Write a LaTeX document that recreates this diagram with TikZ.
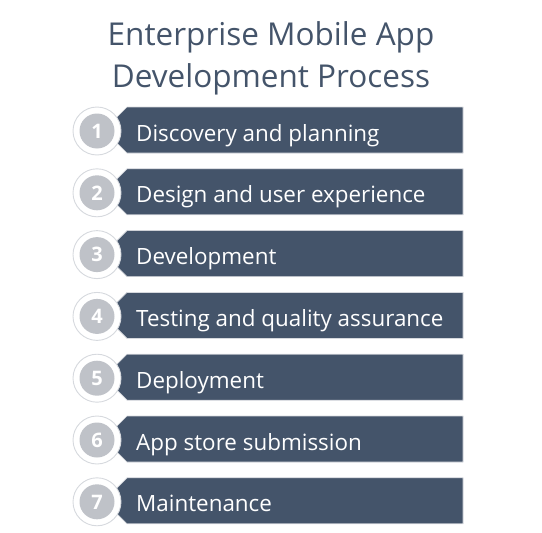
\documentclass[tikz,border=0pt]{standalone}
\usepackage{fontspec}
\setmainfont{Open Sans}
\usetikzlibrary{positioning}
\definecolor{slate}{HTML}{44546A}
\definecolor{ringgrey}{HTML}{D6D9DE}
\definecolor{numgrey}{HTML}{BFC2C8}
\tikzset{
  stepbar/.style = {fill=slate, draw=ringgrey, line width=0.7pt},
  numring/.style = {circle, fill=white, draw=ringgrey, line width=0.9pt, minimum size=48pt, inner sep=0pt},
  numdisc/.style = {circle, fill=numgrey, minimum size=35pt, inner sep=0pt, text=white,
    text height=14.5pt, text depth=0pt, font=\bfseries\fontsize{20}{20}\selectfont},
  steplabel/.style = {anchor=base west, text=white, inner sep=0pt, font=\fontsize{22.4}{22.4}\selectfont},
  titleline/.style = {anchor=base, text=slate, inner sep=0pt, font=\fontsize{31.5}{31.5}\selectfont},
}

\begin{document}
\begin{tikzpicture}[x=1pt, y=-1pt]
\useasboundingbox (0,0) rectangle (542,533);
% title
\node [titleline] (title1) at (271, 45) {Enterprise Mobile App};
\node [titleline] (title2) at (271, 87) {Development Process};
% steps
\foreach \i/\txt in {1/Discovery and planning, 2/Design and user experience, 3/Development,
    4/Testing and quality assurance, 5/Deployment, 6/App store submission, 7/Maintenance} {
  \pgfmathsetmacro{\yc}{130 + (\i-1)*61.8}
  \draw [stepbar] (104,\yc) -- (127,\yc-23) -- (463,\yc-23) -- (463,\yc+23) -- (127,\yc+23) -- cycle;
  \node [numring] (ring\i) at (97,\yc+1) {};
  \node [numdisc] (num\i) at (ring\i) {\i};
  \node [steplabel] (step\i) at (136,\yc+11) {\txt};
}
\end{tikzpicture}
\end{document}
